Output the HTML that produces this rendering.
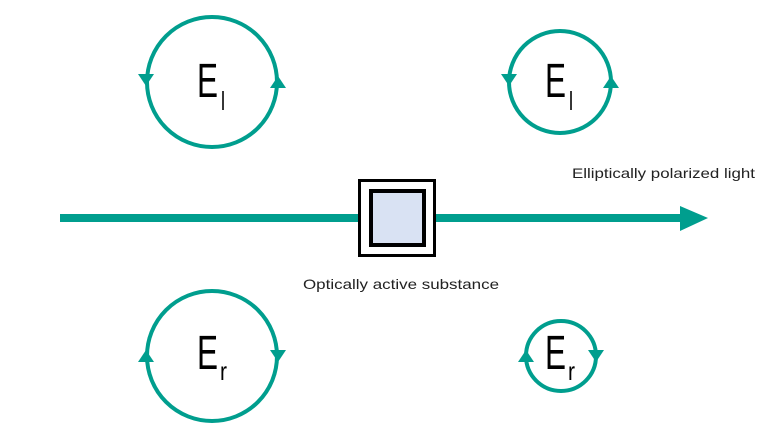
<!DOCTYPE html>
<html><head><style>body{margin:0;background:#fff}</style></head><body>
<svg width="768" height="436" viewBox="0 0 768 436" xmlns="http://www.w3.org/2000/svg" font-family="Liberation Sans, sans-serif">
<g fill="none" stroke="#009e8e" stroke-width="4">
<circle cx="212" cy="82" r="65"/>
<circle cx="560" cy="82" r="51"/>
<circle cx="212" cy="356" r="65"/>
<circle cx="561" cy="356" r="35"/>
</g>
<g fill="#009e8e">
<polygon points="138,74 154,74 146,86"/>
<polygon points="270,88 286,88 278,76"/>
<polygon points="501,74 517,74 509,86"/>
<polygon points="603,88 619,88 611,76"/>
<polygon points="138,362 154,362 146,350"/>
<polygon points="270,350 286,350 278,362"/>
<polygon points="518,362 534,362 526,350"/>
<polygon points="588,350 604,350 596,362"/>
<rect x="60" y="214" width="622" height="8"/>
<polygon points="680,206 708,218 680,231"/>
</g>
<rect x="359.5" y="180.5" width="75" height="75" fill="#fff" stroke="#000" stroke-width="3"/>
<rect x="371" y="191" width="53" height="54" fill="#d9e2f3" stroke="#000" stroke-width="4"/>
<g fill="#000" font-size="48">
<text x="197" y="97" textLength="21" lengthAdjust="spacingAndGlyphs">E</text>
<text x="221" y="110" font-size="26" textLength="4" lengthAdjust="spacingAndGlyphs">l</text>
<text x="545" y="97" textLength="21" lengthAdjust="spacingAndGlyphs">E</text>
<text x="569" y="110" font-size="26" textLength="4" lengthAdjust="spacingAndGlyphs">l</text>
<text x="197" y="369" textLength="21" lengthAdjust="spacingAndGlyphs">E</text>
<text x="220" y="380" font-size="26" textLength="7" lengthAdjust="spacingAndGlyphs">r</text>
<text x="545" y="369" textLength="21" lengthAdjust="spacingAndGlyphs">E</text>
<text x="568" y="380" font-size="26" textLength="7" lengthAdjust="spacingAndGlyphs">r</text>
</g>
<text x="572" y="178" font-size="14" fill="#222" textLength="183" lengthAdjust="spacingAndGlyphs">Elliptically polarized light</text>
<text x="303" y="289" font-size="14" fill="#222" textLength="196" lengthAdjust="spacingAndGlyphs">Optically active substance</text>
</svg>
</body></html>
